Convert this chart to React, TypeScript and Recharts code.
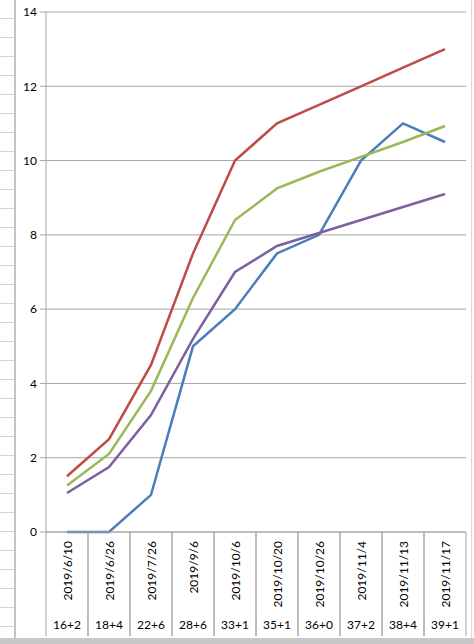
import React from "react";
import { LineChart, Line, XAxis, YAxis, CartesianGrid } from "recharts";

const dates = [
  "2019/6/10",
  "2019/6/26",
  "2019/7/26",
  "2019/9/6",
  "2019/10/6",
  "2019/10/20",
  "2019/10/26",
  "2019/11/4",
  "2019/11/13",
  "2019/11/17",
];
const weeks = ["16+2", "18+4", "22+6", "28+6", "33+1", "35+1", "36+0", "37+2", "38+4", "39+1"];
const blue = [0, 0, 1, 5, 6, 7.5, 8, 10, 11, 10.5];
const red = [1.5, 2.5, 4.5, 7.5, 10, 11, 11.5, 12, 12.5, 13];
const green = [1.25, 2.1, 3.8, 6.3, 8.4, 9.25, 9.7, 10.1, 10.5, 10.93];
const purple = [1.05, 1.75, 3.15, 5.2, 7, 7.7, 8.05, 8.4, 8.75, 9.1];
const yTicks = [0, 2, 4, 6, 8, 10, 12, 14];

const W = 474;
const H = 644;
const margin = { top: 12, right: 8, left: 0, bottom: 0 };
const yAxisWidth = 46;
const xAxisHeight = 112;
const band = (W - margin.right - yAxisWidth) / dates.length;

const data = dates.map((d, i) => ({
  date: d,
  week: weeks[i],
  blue: blue[i],
  red: red[i],
  green: green[i],
  purple: purple[i],
}));

const font = "Lato, 'Open Sans', sans-serif";
const gray = "#a6a6a6";

function CategoryTick(props: any) {
  const { x, y, payload, index } = props;
  const half = band / 2;
  return (
    <g>
      <line x1={x - half} y1={y} x2={x - half} y2={y + 104} stroke={gray} />
      <line x1={x + half} y1={y} x2={x + half} y2={y + 104} stroke={gray} />
      <text
        x={0}
        y={0}
        transform={`translate(${x},${y + 9}) rotate(-90)`}
        textAnchor="end"
        dominantBaseline="central"
        fontSize={12}
        fontFamily={font}
        fill="#000"
      >
        {payload.value}
      </text>
      <text
        x={x}
        y={y + 92}
        textAnchor="middle"
        dominantBaseline="central"
        fontSize={12}
        fontFamily={font}
        fill="#000"
      >
        {weeks[index]}
      </text>
    </g>
  );
}

export default function App() {
  return (
    <div
      style={{
        position: "absolute",
        left: 0,
        top: 0,
        width: W,
        height: H,
        background: "#fff",
        overflow: "hidden",
      }}
    >
      {/* spreadsheet cells behind the chart */}
      <div
        style={{
          position: "absolute",
          left: 0,
          top: 0,
          width: 14,
          height: H,
          backgroundImage: "repeating-linear-gradient(to bottom, transparent 0px, transparent 18px, #d4d4d4 18px, #d4d4d4 19px)",
          borderRight: "2px solid #c3c3c3",
        }}
      />
      <div
        style={{
          position: "absolute",
          left: 0,
          top: 638,
          width: W,
          height: 6,
          background: "#c8c8c8",
        }}
      />
      <div
        style={{
          position: "absolute",
          left: 471,
          top: 0,
          width: 1,
          height: 638,
          background: "#d8d8d8",
        }}
      />
      <div style={{ position: "absolute", left: 0, top: 0 }}>
        <LineChart width={W} height={H} data={data} margin={margin}>
          <CartesianGrid horizontal vertical={false} stroke={gray} strokeWidth={1} />
          <XAxis
            dataKey="date"
            height={xAxisHeight}
            interval={0}
            padding={{ left: band / 2, right: band / 2 }}
            tickSize={0}
            tickMargin={0}
            tickLine={false}
            axisLine={{ stroke: gray }}
            tick={<CategoryTick />}
          />
          <YAxis
            width={yAxisWidth}
            domain={[0, 14]}
            ticks={yTicks}
            interval={0}
            tickSize={6}
            tickMargin={3}
            tickLine={{ stroke: gray }}
            axisLine={{ stroke: gray }}
            tick={{ fontSize: 12, fontFamily: font, fill: "#000" }}
          />
          <Line dataKey="blue" stroke="#4a7ebb" strokeWidth={2.5} dot={false} isAnimationActive={false} />
          <Line dataKey="red" stroke="#be4b48" strokeWidth={2.5} dot={false} isAnimationActive={false} />
          <Line dataKey="green" stroke="#98b954" strokeWidth={2.5} dot={false} isAnimationActive={false} />
          <Line dataKey="purple" stroke="#7d60a0" strokeWidth={2.5} dot={false} isAnimationActive={false} />
        </LineChart>
      </div>
    </div>
  );
}
